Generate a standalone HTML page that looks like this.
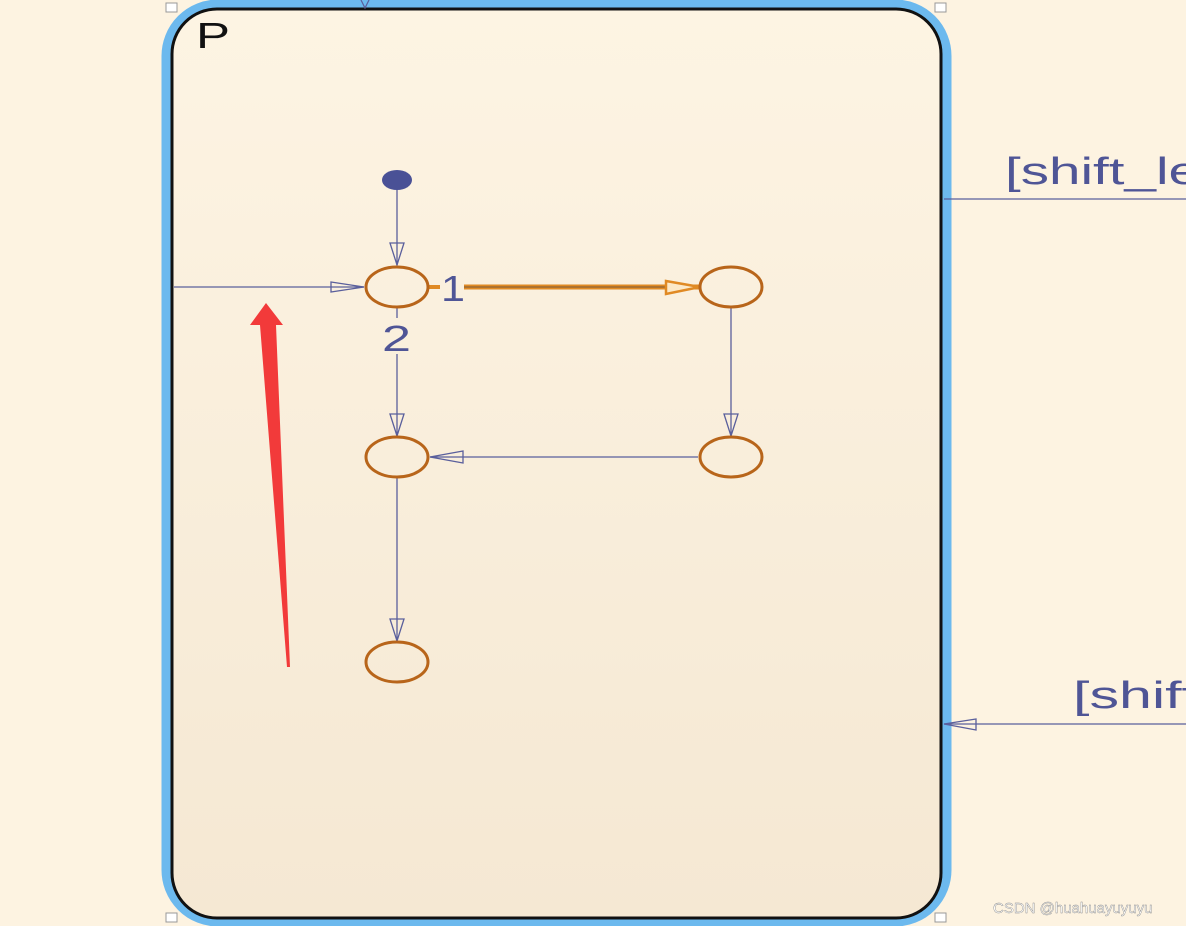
<!DOCTYPE html>
<html><head><meta charset="utf-8"><style>
html,body{margin:0;padding:0;background:#fdf3e1;}
svg{display:block;}
text{font-family:"Liberation Sans",sans-serif;}
</style></head><body>
<svg width="1186" height="926" viewBox="0 0 1186 926" xmlns="http://www.w3.org/2000/svg">
<defs>
<linearGradient id="g" x1="0" y1="0" x2="0" y2="1">
<stop offset="0" stop-color="#fdf4e3"/><stop offset="1" stop-color="#f5e8d3"/>
</linearGradient>
</defs>
<rect width="1186" height="926" fill="#fdf3e1"/>
<rect x="166" y="4" width="781" height="918" rx="52" fill="none" stroke="#6cb9ee" stroke-width="9"/>
<rect x="172" y="9" width="769" height="909" rx="45" fill="url(#g)" stroke="#111" stroke-width="3"/>
<g fill="#fff" stroke="#999" stroke-width="1">
<rect x="166" y="3" width="11" height="9"/><rect x="935" y="3" width="11" height="9"/>
<rect x="166" y="913" width="11" height="9"/><rect x="935" y="913" width="11" height="9"/>
</g>
<path d="M361 0 L365 8 L369 0" fill="none" stroke="#5a5f9c" stroke-width="1.2"/>
<text x="196" y="48" font-size="36" fill="#111" textLength="34" lengthAdjust="spacingAndGlyphs">P</text>
<!-- right transitions -->
<line x1="944" y1="199" x2="1186" y2="199" stroke="#5a5f9c" stroke-width="1.3"/>
<text x="1005" y="184" font-size="38" fill="#4f5596" textLength="195" lengthAdjust="spacingAndGlyphs">[shift_le</text>
<line x1="944" y1="724" x2="1186" y2="724" stroke="#5a5f9c" stroke-width="1.3"/>
<path d="M976 719 L944 724 L976 730 Z" fill="none" stroke="#5a5f9c" stroke-width="1.3"/>
<text x="1073" y="708" font-size="38" fill="#4f5596" textLength="125" lengthAdjust="spacingAndGlyphs">[shift</text>
<!-- lines -->
<g stroke="#5a5f9c" stroke-width="1.3" fill="none">
<line x1="397" y1="185" x2="397" y2="265"/>
<path d="M390 243 L397 265 L404 243 Z"/>
<line x1="174" y1="287" x2="364" y2="287"/>
<path d="M331 282 L364 287 L331 292 Z"/>
<line x1="397" y1="308" x2="397" y2="318"/>
<line x1="397" y1="354" x2="397" y2="436"/>
<path d="M390 414 L397 436 L404 414 Z"/>
<line x1="731" y1="308" x2="731" y2="436"/>
<path d="M724 414 L731 436 L738 414 Z"/>
<line x1="698" y1="457" x2="430" y2="457"/>
<path d="M463 451 L430 457 L463 463 Z"/>
<line x1="397" y1="478" x2="397" y2="641"/>
<path d="M390 619 L397 641 L404 619 Z"/>
</g>
<ellipse cx="397" cy="180" rx="15" ry="10" fill="#4a5196"/>
<line x1="428" y1="287" x2="440" y2="287" stroke="#e08a24" stroke-width="4"/>
<line x1="464" y1="287" x2="700" y2="287" stroke="#e08a24" stroke-width="5"/>
<line x1="464" y1="287" x2="700" y2="287" stroke="#7a5a3a" stroke-width="1"/>
<path d="M666 281 L700 287 L666 294 Z" fill="#fce9c8" stroke="#e08a24" stroke-width="2.5"/>
<text x="441" y="301" font-size="36" fill="#4f5596" textLength="24" lengthAdjust="spacingAndGlyphs">1</text>
<text x="382" y="351" font-size="36" fill="#4f5596" textLength="29" lengthAdjust="spacingAndGlyphs">2</text>
<g fill="none" stroke="#b8651a" stroke-width="3">
<ellipse cx="397" cy="287" rx="31" ry="20"/>
<ellipse cx="731" cy="287" rx="31" ry="20"/>
<ellipse cx="397" cy="457" rx="31" ry="20"/>
<ellipse cx="731" cy="457" rx="31" ry="20"/>
<ellipse cx="397" cy="662" rx="31" ry="20"/>
</g>
<path d="M266 303 L283 325 L276 325 L290 667 L287 667 L260 325 L250 325 Z" fill="#f23a3a"/>
<text x="993" y="913" font-size="15" fill="#fff" stroke="#888" stroke-width="0.4">CSDN @huahuayuyuyu</text>
</svg>
</body></html>
